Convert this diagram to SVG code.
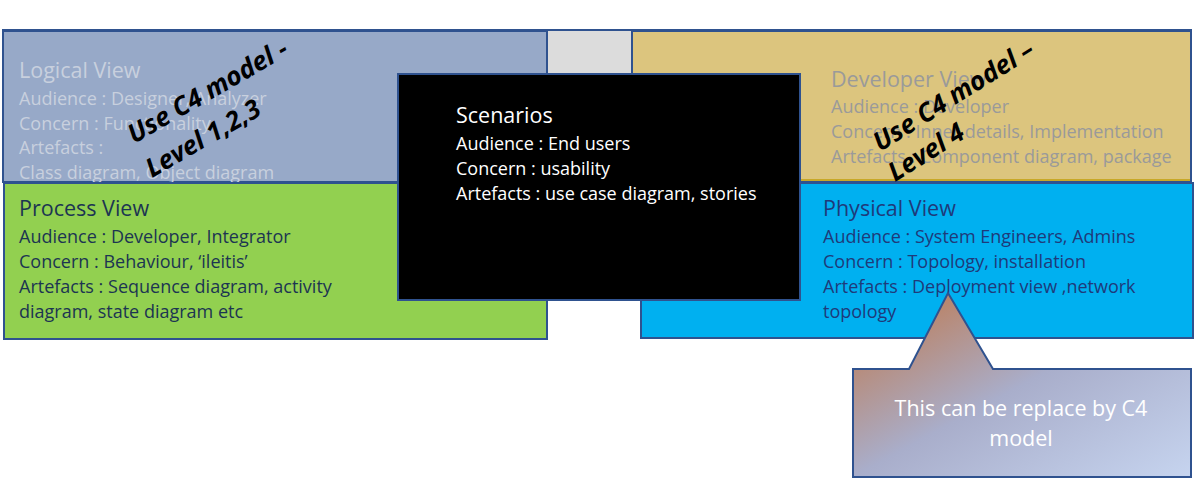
<svg xmlns="http://www.w3.org/2000/svg" width="1194" height="479" viewBox="0 0 1194 479">
<defs>
<linearGradient id="cg" x1="0" y1="0" x2="1" y2="1">
<stop offset="0" stop-color="#c07444"/>
<stop offset="0.5" stop-color="#a9aecb"/>
<stop offset="1" stop-color="#c6d4ef"/>
</linearGradient>
<style>
.b{stroke:#2f528f;stroke-width:2}
text{font-family:"Open Sans","Liberation Sans",sans-serif}
.t{font-size:21.5px}
.l{font-size:18px}
.rot{font-family:"Open Sans","Liberation Sans",sans-serif;font-size:26px;font-weight:bold;font-style:italic;fill:#000}
</style>
</defs>
<rect width="1194" height="479" fill="#fff"/>
<rect x="547" y="31" width="86" height="152" fill="#dcdcdc"/>
<g id="logical">
<rect class="b" x="3" y="31" width="544" height="151" fill="#97a9c8"/>
<g fill="#c8d0de">
<text class="t" x="19" y="78">Logical View</text>
<text class="l" x="19" y="105">Audience : Designer, Analyzer</text>
<text class="l" x="19" y="130">Concern : Functionality</text>
<text class="l" x="19" y="154">Artefacts :</text>
<text class="l" x="19" y="179">Class diagram, Object diagram</text>
</g>
</g>
<g id="developer">
<rect x="632" y="31" width="559" height="151" fill="#dcc57e" stroke="#2f528f" stroke-width="2"/>
<line x1="633" y1="180" x2="1190" y2="180" stroke="#c8a828" stroke-width="2"/>
<g fill="#9a9a9a">
<text class="t" x="831" y="87">Developer View</text>
<text class="l" x="831" y="113">Audience : Developer</text>
<text class="l" x="831" y="138">Concern : Inner details, Implementation</text>
<text class="l" x="831" y="163">Artefacts : Component diagram, package</text>
</g>
</g>
<line x1="2" y1="30" x2="1192" y2="30" stroke="#2f528f" stroke-width="2"/>
<g id="process">
<rect class="b" x="4" y="183" width="543" height="156" fill="#92d050"/>
<g fill="#1c3552">
<text class="t" x="19" y="216">Process View</text>
<text class="l" x="19" y="243">Audience : Developer, Integrator</text>
<text class="l" x="19" y="268">Concern : Behaviour, ‘ileitis’</text>
<text class="l" x="19" y="293">Artefacts : Sequence diagram, activity</text>
<text class="l" x="19" y="318">diagram, state diagram etc</text>
</g>
</g>
<g id="physical">
<rect class="b" x="641" y="183" width="552" height="155" fill="#00b0f0"/>
<g fill="#1f3a7a">
<text class="t" x="823" y="216">Physical View</text>
<text class="l" x="823" y="243">Audience : System Engineers, Admins</text>
<text class="l" x="823" y="268">Concern : Topology, installation</text>
<text class="l" x="823" y="293">Artefacts : Deployment view ,network</text>
<text class="l" x="823" y="318">topology</text>
</g>
</g>
<g id="scenarios">
<rect class="b" x="398" y="74" width="402" height="226" fill="#000"/>
<g fill="#fff">
<text class="t" x="456" y="123">Scenarios</text>
<text class="l" x="456" y="150">Audience : End users</text>
<text class="l" x="456" y="175">Concern : usability</text>
<text class="l" x="456" y="200">Artefacts : use case diagram, stories</text>
</g>
</g>
<g id="notes">
<text class="rot" transform="translate(134,144) rotate(-30)">Use C4 model  -</text>
<text class="rot" transform="translate(152,178) rotate(-30)">Level 1,2,3</text>
<text class="rot" transform="translate(880,152) rotate(-32)">Use C4 model –</text>
<text class="rot" transform="translate(895,182) rotate(-32)">Level 4</text>
</g>
<g id="callout">
<path d="M853,369 L909,369 L948,293 L993,369 L1191,369 L1191,477 L853,477 Z" fill="url(#cg)" stroke="#2f528f" stroke-width="2"/>
<g fill="#fff" font-size="21.5" text-anchor="middle">
<text x="1021" y="416">This can be replace by C4</text>
<text x="1021" y="446">model</text>
</g>
</g>
</svg>
